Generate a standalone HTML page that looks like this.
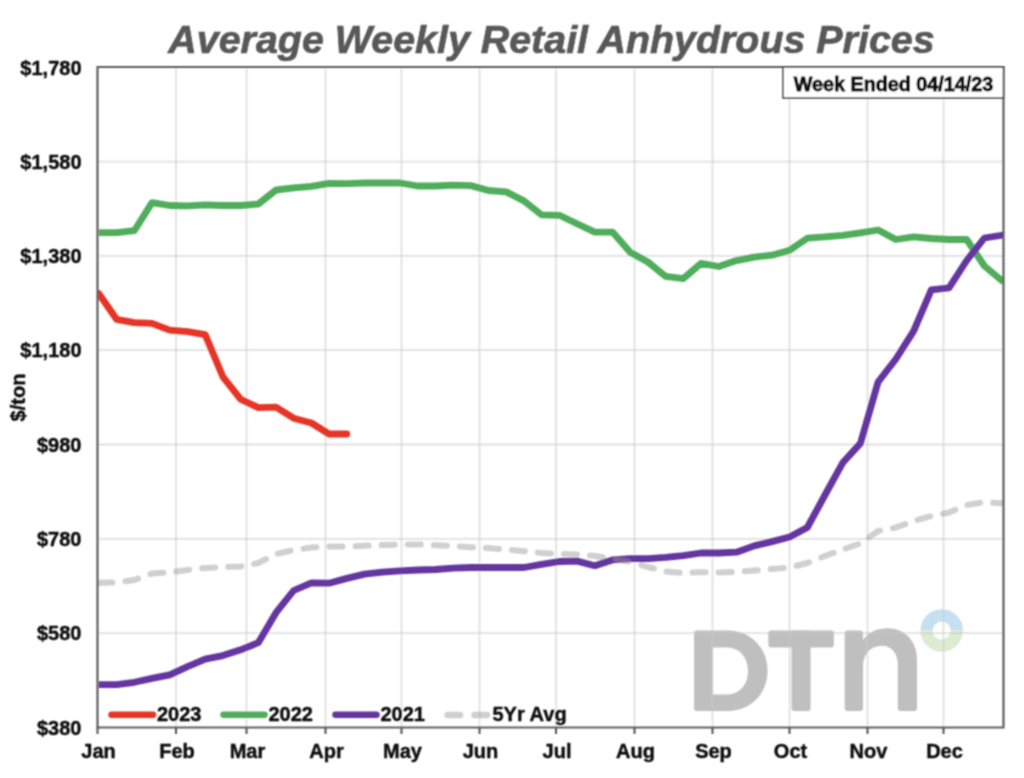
<!DOCTYPE html>
<html><head><meta charset="utf-8"><title>Average Weekly Retail Anhydrous Prices</title>
<style>html,body{margin:0;padding:0;background:#fff;width:1024px;height:778px;overflow:hidden}svg{display:block;font-family:"Liberation Sans",sans-serif}</style>
</head><body><div id="w">
<svg width="1024" height="778" viewBox="0 0 1024 778">
<defs><filter id="bl" x="0" y="0" width="1024" height="778" filterUnits="userSpaceOnUse"><feConvolveMatrix order="3" kernelMatrix="1 2 1 2 4 2 1 2 1" divisor="16" edgeMode="duplicate"/></filter></defs>
<rect width="1024" height="778" fill="#fff"/><g filter="url(#bl)">
<g id="logo" fill="#bfbfbf">
<path d="M694,633.5 a3,3 0 0 1 3,-3 H727 C751,630.5 767.5,648 767.5,670.8 C767.5,693.5 751,711 727,711 H697 a3,3 0 0 1 -3,-3 Z M712.5,647.5 V694.5 H726.5 C740,694.5 748,684 748,671 C748,658 740,647.5 726.5,647.5 Z" fill-rule="evenodd"/>
<rect x="768.3" y="630.6" width="65.6" height="16.8" rx="3"/>
<rect x="791.5" y="630.6" width="19.1" height="80.4" rx="3"/>
<path d="M844.7,633.6 a3,3 0 0 1 3,-3 H860 a3,3 0 0 1 3,3 V640 C868,632 878,628.3 887.5,628.3 C904,628.3 917,640 917,660 V708 a3,3 0 0 1 -3,3 H900.8 a3,3 0 0 1 -3,-3 V664 C897.8,653 891,645.8 881.5,645.8 C871,645.8 863,654 863,666 V708 a3,3 0 0 1 -3,3 H847.7 a3,3 0 0 1 -3,-3 Z"/>
</g>
<path d="M920.4,630.5 A21.3,21.3 0 0 1 963,630.5 H950.7 A9,9 0 0 0 932.7,630.5 Z" fill="#c4e0f1"/>
<path d="M920.4,630.5 A21.3,21.3 0 0 0 963,630.5 H950.7 A9,9 0 0 1 932.7,630.5 Z" fill="#dcecd3"/>
<g stroke="rgba(200,200,200,0.55)" stroke-width="1.8" fill="none">
<line x1="97.5" y1="161.6" x2="1003.5" y2="161.6"/>
<line x1="97.5" y1="255.9" x2="1003.5" y2="255.9"/>
<line x1="97.5" y1="350.2" x2="1003.5" y2="350.2"/>
<line x1="97.5" y1="444.5" x2="1003.5" y2="444.5"/>
<line x1="97.5" y1="538.8" x2="1003.5" y2="538.8"/>
<line x1="97.5" y1="633.1" x2="1003.5" y2="633.1"/>
<line x1="176" y1="67" x2="176" y2="727.5"/>
<line x1="246.5" y1="67" x2="246.5" y2="727.5"/>
<line x1="325.5" y1="67" x2="325.5" y2="727.5"/>
<line x1="401.5" y1="67" x2="401.5" y2="727.5"/>
<line x1="479.5" y1="67" x2="479.5" y2="727.5"/>
<line x1="556" y1="67" x2="556" y2="727.5"/>
<line x1="634.5" y1="67" x2="634.5" y2="727.5"/>
<line x1="712.5" y1="67" x2="712.5" y2="727.5"/>
<line x1="789.5" y1="67" x2="789.5" y2="727.5"/>
<line x1="867.5" y1="67" x2="867.5" y2="727.5"/>
<line x1="943.5" y1="67" x2="943.5" y2="727.5"/>
</g>
<defs><clipPath id="pc"><rect x="97.5" y="67" width="906.0" height="660.5"/></clipPath></defs><g clip-path="url(#pc)">
<polyline points="98.9,293.7 116.6,319.3 134.3,322.7 152.0,323.3 169.7,330.1 187.5,331.7 205.2,334.6 222.9,376.8 240.6,399.2 258.3,407.6 276.0,407.1 293.7,418.2 311.4,423.0 329.1,434.0 346.8,434.0" fill="none" stroke="#e63427" stroke-width="6.8" stroke-linejoin="round" stroke-linecap="round"/>
<polyline points="98.9,232.7 116.6,232.7 134.3,230.7 152.0,202.6 169.7,205.5 187.5,205.9 205.2,204.9 222.9,205.5 240.6,205.5 258.3,204.0 276.0,190.0 293.7,187.9 311.4,186.4 329.1,183.4 346.8,183.6 364.6,183.0 382.3,183.0 400.0,183.0 417.7,186.0 435.4,186.0 453.1,185.2 470.8,185.6 488.5,190.5 506.2,191.9 523.9,200.9 541.6,214.9 559.4,215.3 577.1,223.7 594.8,232.1 612.5,232.1 630.2,252.2 647.9,262.0 665.6,276.3 683.3,278.6 701.0,263.4 718.8,266.5 736.5,260.6 754.2,257.1 771.9,255.2 789.6,250.3 807.3,238.2 825.0,236.9 842.7,235.3 860.4,232.8 878.1,230.0 895.9,239.5 913.6,236.8 931.3,238.5 949.0,239.5 966.7,239.5 984.4,266.0 1003.5,282.0" fill="none" stroke="#50ad5b" stroke-width="6.8" stroke-linejoin="round" stroke-linecap="butt"/>
<polyline points="98.9,684.7 116.6,684.7 134.3,682.3 152.0,678.4 169.7,674.8 187.5,666.6 205.2,659.1 222.9,655.6 240.6,649.8 258.3,642.7 276.0,612.7 293.7,590.5 311.4,582.8 329.1,583.2 346.8,578.4 364.6,574.1 382.3,572.1 400.0,570.8 417.7,570.0 435.4,569.5 453.1,568.2 470.8,567.5 488.5,567.5 506.2,567.5 523.9,567.5 541.6,564.4 559.4,561.5 577.1,561.1 594.8,565.7 612.5,559.9 630.2,558.6 647.9,558.6 665.6,557.3 683.3,555.6 701.0,553.0 718.8,553.0 736.5,552.2 754.2,545.9 771.9,541.6 789.6,537.0 807.3,527.5 825.0,495.0 842.7,462.8 860.4,443.4 878.1,382.0 895.9,359.0 913.6,331.1 931.3,289.9 949.0,287.8 966.7,260.5 984.4,238.0 1003.5,235.0" fill="none" stroke="#6534a0" stroke-width="6.8" stroke-linejoin="round" stroke-linecap="butt"/>
<polyline points="98.9,582.7 116.6,582.5 134.3,580.0 152.0,573.5 169.7,572.5 187.5,570.0 205.2,568.0 222.9,567.0 240.6,566.5 258.3,563.0 276.0,554.0 293.7,550.0 311.4,547.5 329.1,546.5 346.8,546.5 364.6,545.8 382.3,545.0 400.0,544.5 417.7,544.5 435.4,545.2 453.1,546.2 470.8,547.2 488.5,548.0 506.2,549.5 523.9,551.2 541.6,553.0 559.4,553.8 577.1,554.5 594.8,556.0 612.5,558.5 630.2,562.0 647.9,567.0 665.6,571.5 683.3,573.0 701.0,572.2 718.8,572.4 736.5,572.0 754.2,570.6 771.9,569.0 789.6,567.5 807.3,563.0 825.0,556.0 842.7,549.5 860.4,543.5 878.1,531.0 895.9,527.5 913.6,521.0 931.3,516.0 949.0,512.5 966.7,505.0 984.4,502.0 1003.5,503.5" fill="none" stroke="rgba(150,150,150,0.45)" stroke-width="6" stroke-dasharray="13.05 13.05" stroke-dashoffset="-0.5" stroke-linejoin="round" stroke-linecap="round"/>
</g>
<path d="M97.5,67 H1003.5 V727.5 H97.5 Z" fill="none" stroke="#5e5e5e" stroke-width="2.2"/>
<g stroke="#555" stroke-width="2">
<line x1="97.5" y1="727.5" x2="97.5" y2="734.0"/>
<line x1="176" y1="727.5" x2="176" y2="734.0"/>
<line x1="246.5" y1="727.5" x2="246.5" y2="734.0"/>
<line x1="325.5" y1="727.5" x2="325.5" y2="734.0"/>
<line x1="401.5" y1="727.5" x2="401.5" y2="734.0"/>
<line x1="479.5" y1="727.5" x2="479.5" y2="734.0"/>
<line x1="556" y1="727.5" x2="556" y2="734.0"/>
<line x1="634.5" y1="727.5" x2="634.5" y2="734.0"/>
<line x1="712.5" y1="727.5" x2="712.5" y2="734.0"/>
<line x1="789.5" y1="727.5" x2="789.5" y2="734.0"/>
<line x1="867.5" y1="727.5" x2="867.5" y2="734.0"/>
<line x1="943.5" y1="727.5" x2="943.5" y2="734.0"/>
</g>
<rect x="783" y="67" width="220.5" height="31" fill="#fff" stroke="#4a4a4a" stroke-width="1.6"/>
<text x="893.5" y="91" font-family="Liberation Sans" font-weight="bold" font-size="19.75" text-anchor="middle" fill="#0a0a0a" stroke="#0a0a0a" stroke-width="0.8">Week Ended 04/14/23</text>
<text x="551.5" y="52.6" font-family="Liberation Sans" font-weight="bold" font-style="italic" font-size="39.4" text-anchor="middle" fill="#585858" stroke="#585858" stroke-width="0.7">Average Weekly Retail Anhydrous Prices</text>
<text x="81.5" y="74.5" font-family="Liberation Sans" font-weight="bold" font-size="20" text-anchor="end" fill="#111" stroke="#111" stroke-width="0.45">$1,780</text>
<text x="81.5" y="168.8" font-family="Liberation Sans" font-weight="bold" font-size="20" text-anchor="end" fill="#111" stroke="#111" stroke-width="0.45">$1,580</text>
<text x="81.5" y="263.1" font-family="Liberation Sans" font-weight="bold" font-size="20" text-anchor="end" fill="#111" stroke="#111" stroke-width="0.45">$1,380</text>
<text x="81.5" y="357.4" font-family="Liberation Sans" font-weight="bold" font-size="20" text-anchor="end" fill="#111" stroke="#111" stroke-width="0.45">$1,180</text>
<text x="81.5" y="451.7" font-family="Liberation Sans" font-weight="bold" font-size="20" text-anchor="end" fill="#111" stroke="#111" stroke-width="0.45">$980</text>
<text x="81.5" y="546.0" font-family="Liberation Sans" font-weight="bold" font-size="20" text-anchor="end" fill="#111" stroke="#111" stroke-width="0.45">$780</text>
<text x="81.5" y="640.3" font-family="Liberation Sans" font-weight="bold" font-size="20" text-anchor="end" fill="#111" stroke="#111" stroke-width="0.45">$580</text>
<text x="81.5" y="734.6" font-family="Liberation Sans" font-weight="bold" font-size="20" text-anchor="end" fill="#111" stroke="#111" stroke-width="0.45">$380</text>
<text transform="translate(24.5,397.5) rotate(-90)" font-family="Liberation Sans" font-weight="bold" font-size="20" text-anchor="middle" fill="#111" stroke="#111" stroke-width="0.45">$/ton</text>
<text x="98.5" y="757.5" font-family="Liberation Sans" font-weight="bold" font-size="20" text-anchor="middle" fill="#111" stroke="#111" stroke-width="0.45">Jan</text>
<text x="177" y="757.5" font-family="Liberation Sans" font-weight="bold" font-size="20" text-anchor="middle" fill="#111" stroke="#111" stroke-width="0.45">Feb</text>
<text x="247.5" y="757.5" font-family="Liberation Sans" font-weight="bold" font-size="20" text-anchor="middle" fill="#111" stroke="#111" stroke-width="0.45">Mar</text>
<text x="326.5" y="757.5" font-family="Liberation Sans" font-weight="bold" font-size="20" text-anchor="middle" fill="#111" stroke="#111" stroke-width="0.45">Apr</text>
<text x="402.5" y="757.5" font-family="Liberation Sans" font-weight="bold" font-size="20" text-anchor="middle" fill="#111" stroke="#111" stroke-width="0.45">May</text>
<text x="480.5" y="757.5" font-family="Liberation Sans" font-weight="bold" font-size="20" text-anchor="middle" fill="#111" stroke="#111" stroke-width="0.45">Jun</text>
<text x="557" y="757.5" font-family="Liberation Sans" font-weight="bold" font-size="20" text-anchor="middle" fill="#111" stroke="#111" stroke-width="0.45">Jul</text>
<text x="635.5" y="757.5" font-family="Liberation Sans" font-weight="bold" font-size="20" text-anchor="middle" fill="#111" stroke="#111" stroke-width="0.45">Aug</text>
<text x="713.5" y="757.5" font-family="Liberation Sans" font-weight="bold" font-size="20" text-anchor="middle" fill="#111" stroke="#111" stroke-width="0.45">Sep</text>
<text x="790.5" y="757.5" font-family="Liberation Sans" font-weight="bold" font-size="20" text-anchor="middle" fill="#111" stroke="#111" stroke-width="0.45">Oct</text>
<text x="868.5" y="757.5" font-family="Liberation Sans" font-weight="bold" font-size="20" text-anchor="middle" fill="#111" stroke="#111" stroke-width="0.45">Nov</text>
<text x="944.5" y="757.5" font-family="Liberation Sans" font-weight="bold" font-size="20" text-anchor="middle" fill="#111" stroke="#111" stroke-width="0.45">Dec</text>
<line x1="111.5" y1="714.8" x2="153" y2="714.8" stroke="#e63427" stroke-width="6.5" stroke-linecap="round"/>
<text x="157" y="721" font-family="Liberation Sans" font-weight="bold" font-size="20" fill="#111" stroke="#111" stroke-width="0.45">2023</text>
<line x1="223.5" y1="714.8" x2="264.5" y2="714.8" stroke="#50ad5b" stroke-width="6.5" stroke-linecap="round"/>
<text x="268.5" y="721" font-family="Liberation Sans" font-weight="bold" font-size="20" fill="#111" stroke="#111" stroke-width="0.45">2022</text>
<line x1="335.5" y1="714.8" x2="376.5" y2="714.8" stroke="#6534a0" stroke-width="6.5" stroke-linecap="round"/>
<text x="380.5" y="721" font-family="Liberation Sans" font-weight="bold" font-size="20" fill="#111" stroke="#111" stroke-width="0.45">2021</text>
<line x1="447.5" y1="715.0999999999999" x2="487" y2="715.0999999999999" stroke="rgba(150,150,150,0.45)" stroke-width="6.5" stroke-dasharray="12.5 14.5" stroke-linecap="round"/>
<text x="492.5" y="721" font-family="Liberation Sans" font-weight="bold" font-size="20" fill="#111" stroke="#111" stroke-width="0.45">5Yr Avg</text>
</g></svg>
</div></body></html>
